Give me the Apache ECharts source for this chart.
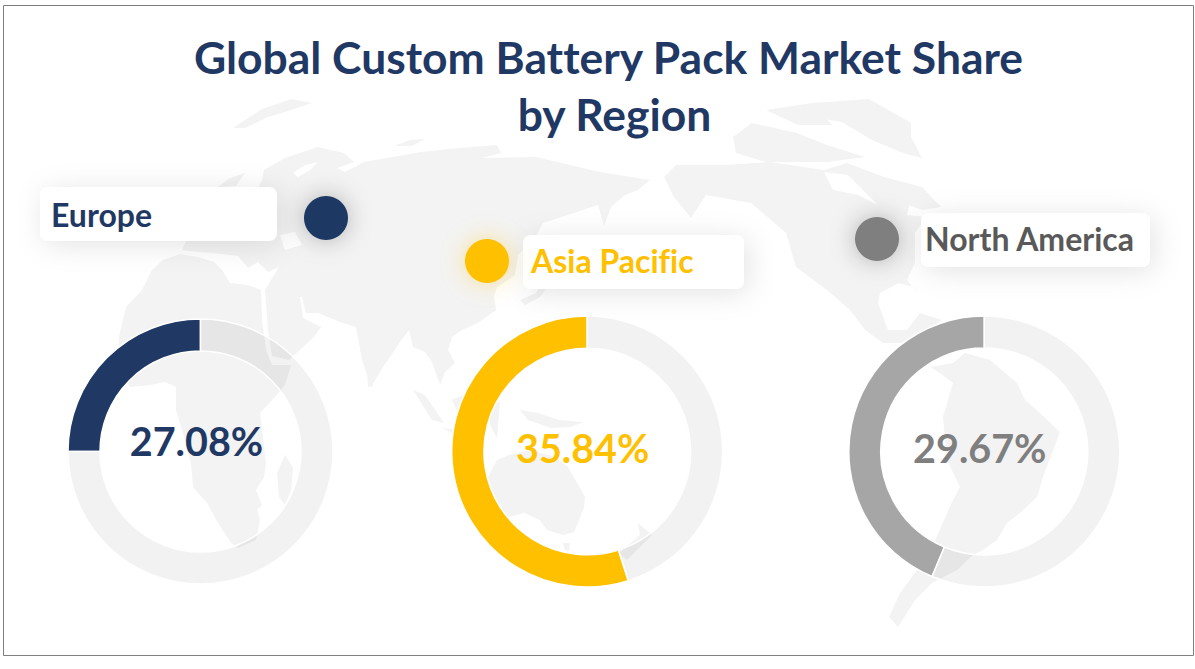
<!DOCTYPE html>
<html>
<head>
<meta charset="utf-8">
<title>Global Custom Battery Pack Market Share by Region</title>
<style>
    html, body { margin: 0; padding: 0; background: #fff; }
    #chart { width: 1195px; height: 669px; }
    /* lato joins tt and fi otherwise */
    #chart text { font-variant-ligatures: none !important; }
</style>
<script src="https://cdn.jsdelivr.net/npm/echarts@6/dist/echarts.min.js"></script>
</head>
<body>
<div id="chart"></div>
<script>
    var titleLines = ['Global Custom Battery Pack Market Share', 'by Region'];
    var regions = ['Europe', 'Asia Pacific', 'North America'];
    // printed on the picture
    var shareLabels = ['27.08%', '35.84%', '29.67%'];
    // share of the ring the coloured arc really covers in the picture
    var arcShares = [25, 54.9, 43.7];

    var mainColors = ['#1f3864', '#ffc000', '#a6a6a6'];
    var nameColors = ['#1f3864', '#ffc000', '#595959'];
    var valueColors = ['#1f3864', '#ffc000', '#7f7f7f'];
    var dotColors = ['#1f3864', '#ffc000', '#7f7f7f'];
    var fontName = 'Lato, "Open Sans", sans-serif';

    var rings = [
        {center: [200.5, 451.5], outer: 132.5, inner: 100.5, label: [-4, -11]},
        {center: [587.2, 451.5], outer: 135.5, inner: 103.3, label: [-4.5, -4]},
        {center: [984.3, 451.5], outer: 135.5, inner: 103.5, label: [-4.5, -4]}
    ];
    var boxes = [
        {x: 40, y: 187, w: 237, h: 54, textX: 51, textY: 214, dot: [326, 218]},
        {x: 523, y: 235, w: 221, h: 54, textX: 531, textY: 260, dot: [487, 261]},
        {x: 921, y: 213, w: 229, h: 54, textX: 925, textY: 238, dot: [877, 239]}
    ];

    // faint world map behind the chart, it carries no data
    var landShapes = [
        // africa
        [[180,254],[163,260],[152,270],[142,290],[126,307],[119,337],[118,355],[122,375],[130,387],[150,385],[165,382],[176,387],[176,410],[185,440],[191,463],[193,487],[207,503],[218,523],[231,543],[238,548],[256,540],[260,520],[257,510],[262,505],[256,490],[264,477],[266,463],[262,430],[260,413],[275,397],[285,385],[291,365],[272,365],[266,350],[262,320],[261,290],[248,285],[230,283],[222,270],[214,262],[198,257]],
        // eurasia
        [[182,250],[190,232],[205,228],[212,215],[225,205],[240,200],[255,195],[262,180],[264,170],[285,158],[318,147],[344,153],[354,162],[337,168],[345,172],[364,162],[421,152],[460,148],[497,145],[501,153],[482,158],[536,157],[600,172],[650,180],[638,190],[625,195],[611,207],[604,226],[598,205],[574,213],[543,223],[535,238],[518,255],[515,275],[505,282],[497,287],[494,297],[496,310],[478,323],[462,330],[452,337],[448,350],[455,363],[445,372],[440,385],[432,362],[425,352],[413,347],[409,330],[400,342],[383,367],[371,387],[362,360],[356,327],[340,322],[318,313],[306,313],[302,297],[300,297],[303,318],[321,327],[314,337],[289,360],[272,356],[268,330],[265,290],[279,267],[268,272],[258,262],[248,268],[238,256],[214,253],[198,252]],
        // britain, east greenland
        [[218,187],[230,178],[245,173],[236,186]],
        [[233,128],[262,109],[291,99],[312,103],[285,112],[268,117],[245,128]],
        // novaya zemlya, sri lanka
        [[394,146],[410,140],[425,139],[412,146]],
        [[367,373],[372,375],[373,386],[368,387]],
        // japan
        [[520,300],[536,293],[548,272],[552,280],[540,297],[525,305]],
        // north america
        [[664,177],[676,165],[725,165],[770,162],[824,170],[847,163],[884,177],[922,187],[941,207],[922,210],[909,205],[907,215],[926,217],[915,233],[915,263],[907,280],[924,302],[913,287],[899,283],[880,293],[878,303],[888,330],[907,330],[920,313],[942,320],[907,343],[883,343],[865,330],[850,310],[827,290],[796,267],[786,233],[751,203],[706,195],[691,218],[674,197]],
        // arctic islands, greenland
        [[733,137],[752,123],[797,133],[827,145],[865,157],[827,162],[766,162],[736,153]],
        [[766,110],[812,103],[832,125],[798,125]],
        [[812,103],[869,99],[911,123],[911,137],[922,158],[903,153],[872,140],[842,122],[812,117]],
        // south america
        [[930,367],[953,363],[965,353],[990,360],[1017,383],[1025,400],[1040,413],[1060,432],[1043,477],[1037,497],[1020,513],[1007,523],[997,540],[983,550],[973,555],[957,570],[932,583],[915,600],[898,627],[889,617],[900,593],[915,573],[934,543],[953,500],[960,487],[947,460],[943,417],[953,383],[940,373]],
        // australia, tasmania, new guinea, new zealand
        [[488,477],[497,460],[509,455],[530,450],[555,457],[568,467],[585,497],[584,507],[578,523],[574,532],[563,535],[547,530],[540,520],[524,513],[509,517],[497,510],[490,487]],
        [[563,543],[570,543],[569,551],[565,550]],
        [[520,410],[538,413],[559,420],[584,422],[570,427],[551,428],[528,420]],
        [[638,523],[652,535],[627,560],[619,553],[640,535]],
        // indonesia
        [[413,390],[425,395],[444,423],[432,420]],
        [[442,428],[470,431],[470,435],[452,433]],
        [[452,400],[470,392],[478,410],[460,418]],
        [[490,405],[500,402],[497,438],[490,425]],
        // madagascar
        [[285,455],[293,468],[291,490],[285,505],[279,497],[277,473]]
    ];
    // seas cut out of the land
    var waterShapes = [
        [[824,172],[848,175],[868,195],[878,205],[858,195],[833,190]],
        [[293,173],[305,165],[318,162],[310,170],[298,177]],
        [[280,235],[295,232],[302,245],[285,250]]
    ];

    var chart = echarts.init(document.getElementById('chart'), null, {renderer: 'svg'});

    var graphics = [];
    graphics.push({
        type: 'rect', z: 0, silent: true,
        shape: {x: 3.5, y: 5.5, width: 1190, height: 650},
        style: {fill: '#fff', stroke: '#7f7f7f', lineWidth: 1}
    });
    landShapes.forEach(function (pts) {
        graphics.push({type: 'polygon', z: 1, silent: true, shape: {points: pts}, style: {fill: '#f3f3f3'}});
    });
    waterShapes.forEach(function (pts) {
        graphics.push({type: 'polygon', z: 1, silent: true, shape: {points: pts}, style: {fill: '#fff'}});
    });
    boxes.forEach(function (b, i) {
        graphics.push({
            type: 'rect', z: 3, silent: true,
            shape: {x: b.x, y: b.y, width: b.w, height: b.h, r: 8},
            style: {fill: '#fff', shadowBlur: 28, shadowColor: 'rgba(0,0,0,0.11)', shadowOffsetX: 4, shadowOffsetY: 4}
        });
        graphics.push({
            type: 'text', z: 4, silent: true, x: b.textX, y: b.textY,
            style: {
                text: regions[i], fill: nameColors[i], align: 'left', verticalAlign: 'middle',
                font: '700 32px ' + fontName
            }
        });
        graphics.push({
            type: 'circle', z: 4, silent: true,
            shape: {cx: b.dot[0], cy: b.dot[1], r: 22},
            style: {fill: dotColors[i], shadowBlur: 24, shadowColor: i === 1 ? 'rgba(255,192,0,0.4)' : 'rgba(0,0,0,0.28)'}
        });
    });

    var series = regions.map(function (name, i) {
        var r = rings[i];
        return {
            type: 'pie',
            name: name,
            z: 2,
            silent: true,
            animation: false,
            center: r.center,
            radius: [r.inner, r.outer],
            startAngle: 90,
            clockwise: false,
            avoidLabelOverlap: false,
            itemStyle: {borderColor: '#fff', borderWidth: 1.5},
            labelLine: {show: false},
            label: {show: false},
            data: [
                {
                    value: arcShares[i],
                    name: name,
                    itemStyle: {color: mainColors[i]},
                    label: {
                        show: true, position: 'center', formatter: shareLabels[i], offset: r.label,
                        color: valueColors[i], fontSize: 39.5, fontWeight: 700, fontFamily: fontName
                    }
                },
                {value: 100 - arcShares[i], name: 'Other', itemStyle: {color: 'rgba(0,0,0,0.05)'}}
            ]
        };
    });

    var titleStyle = {color: '#1f3864', fontSize: 44.4, fontWeight: 700, fontFamily: fontName};

    chart.setOption({
        animation: false,
        title: [
            {text: titleLines[0], left: 603.5, top: 29, textAlign: 'center', textStyle: titleStyle},
            {text: titleLines[1], left: 609.5, top: 86, textAlign: 'center', textStyle: titleStyle}
        ],
        tooltip: {show: false},
        graphic: {elements: graphics},
        series: series
    });
</script>
</body>
</html>
